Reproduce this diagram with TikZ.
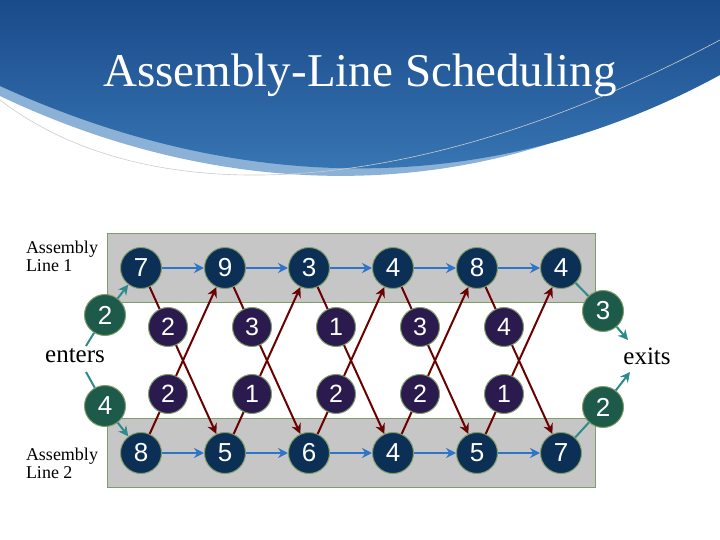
\documentclass[tikz,border=0pt]{standalone}
\usepackage{fontspec}
\setmainfont{Liberation Serif}
\newfontfamily\nodefont{Liberation Sans}
\usetikzlibrary{arrows.meta}
\definecolor{navy}{HTML}{0B2F55}
\definecolor{purp}{HTML}{2A1A4E}
\definecolor{grn}{HTML}{1E5A4A}
\definecolor{bord}{HTML}{7F9C6A}
\definecolor{ablue}{HTML}{2E75C8}
\definecolor{ared}{HTML}{6B0000}
\definecolor{teal2}{HTML}{2E8B8B}
\definecolor{hdr1}{HTML}{1A4A8A}
\definecolor{hdr2}{HTML}{3D7DBA}
\tikzset{
 stn/.style={circle,fill=navy,draw=bord,line width=1pt,minimum size=41pt,inner sep=0pt,text=white,font=\nodefont\fontsize{26}{26}\selectfont},
 tr/.style={circle,fill=purp,draw=bord,line width=1pt,minimum size=39pt,inner sep=0pt,text=white,font=\nodefont\fontsize{25}{25}\selectfont},
 ee/.style={circle,fill=grn,draw=bord,line width=1pt,minimum size=41pt,inner sep=0pt,text=white,font=\nodefont\fontsize{26}{26}\selectfont},
 ha/.style={ablue,line width=2pt,-{Stealth[length=10pt,width=10pt]}},
 da/.style={ared,line width=2pt,-{Stealth[length=10pt,width=10pt]}},
 ta/.style={teal2,line width=2pt},
 lbl/.style={font=\fontsize{18}{21}\selectfont,align=left},
 box/.style={fill=gray!45,draw=bord,line width=1pt}
}
\begin{document}
\begin{tikzpicture}[x=1pt,y=-1pt]
\useasboundingbox (0,0) rectangle (720,540);
\fill[white] (0,0) rectangle (720,540);
% header
\fill[hdr2!60] (0,96) .. controls (250,215) and (520,200) .. (720,58) -- (720,0) -- (0,0) -- cycle;
\shade[top color=hdr1,bottom color=hdr2] (0,86) .. controls (250,200) and (500,195) .. (720,75) -- (720,0) -- (0,0) -- cycle;
\draw[gray!40,line width=0.6pt] (0,100) .. controls (150,215) and (420,200) .. (720,40);
\node[text=white,font=\fontsize{47}{47}\selectfont] (title) at (360,75) {Assembly-Line Scheduling};
% boxes
\node[box,minimum width=488pt,minimum height=69pt,inner sep=0pt] (b1) at (351,267.5) {};
\node[box,minimum width=488pt,minimum height=69pt,inner sep=0pt] (b2) at (351,452.5) {};
\node[lbl] (l1) at (62,256) {Assembly\\[-3pt]Line 1};
\node[lbl] (l2) at (62,463) {Assembly\\[-3pt]Line 2};
\node[font=\fontsize{25}{25}\selectfont] (en) at (75,356) {enters};
\node[font=\fontsize{25}{25}\selectfont] (ex) at (647,356) {exits};
\coordinate (ext) at (628,340);
\coordinate (exb) at (630,372);
% stations
\foreach \v [count=\i] in {7,9,3,4,8,4}{\node[stn] (a\i) at ({141+84*(\i-1)},268) {\v};}
\foreach \v [count=\i] in {8,5,6,4,5,7}{\node[stn] (c\i) at ({141+84*(\i-1)},453) {\v};}
% arrows
\foreach \i [evaluate=\i as \j using int(\i+1)] in {1,...,5}{
 \draw[ha] (a\i) -- (a\j);
 \draw[ha] (c\i) -- (c\j);
 \draw[da] (a\i) -- (c\j);
 \draw[da] (c\i) -- (a\j);
}
% transfer nodes
\foreach \v [count=\i] in {2,3,1,3,4}{\node[tr] (t\i) at ({168+84*(\i-1)},327) {\v};}
\foreach \v [count=\i] in {2,1,2,2,1}{\node[tr] (u\i) at ({168+84*(\i-1)},394) {\v};}
% entry/exit
\node[ee] (e1) at (105,315) {2};
\node[ee] (e2) at (105,406) {4};
\node[ee] (x1) at (603,311) {3};
\node[ee] (x2) at (603,407) {2};
\coordinate (ent) at (86,346);
\coordinate (enb) at (86,372);
\draw[ta] (ent) -- (e1);
\draw[ta] (enb) -- (e2);
\draw[ta,-{Stealth[length=10pt,width=10pt]}] (e1) -- (a1);
\draw[ta,-{Stealth[length=10pt,width=10pt]}] (e2) -- (c1);
\draw[ta] (a6) -- (x1);
\draw[ta] (c6) -- (x2);
\draw[ta,-{Stealth[length=10pt,width=10pt]}] (x1) -- (ext);
\draw[ta,-{Stealth[length=10pt,width=10pt]}] (x2) -- (exb);
\end{tikzpicture}
\end{document}
